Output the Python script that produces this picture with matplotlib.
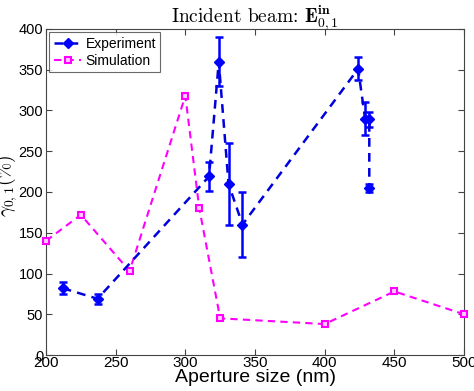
import numpy as np
import matplotlib.pyplot as plt

plt.rcParams['font.family'] = ['Liberation Sans', 'DejaVu Sans']
plt.rcParams['mathtext.fontset'] = 'cm'

# Experiment (aperture size, gamma, error bounds)
exp_x = [212, 237, 317, 324, 331, 341, 424, 429, 432, 432]
exp_y = [82, 69, 219, 360, 210, 160, 351, 290, 289, 205]
exp_lo = [75, 63, 201, 330, 160, 120, 337, 270, 280, 200]
exp_hi = [90, 75, 237, 390, 260, 200, 365, 310, 298, 210]

# Simulation
sim_x = [200, 225, 260, 300, 310, 325, 400, 450, 500]
sim_y = [140, 172, 103, 318, 180, 45, 38, 78, 50]

exp_y = np.array(exp_y)
yerr = [exp_y - np.array(exp_lo), np.array(exp_hi) - exp_y]

fig = plt.figure(figsize=(4.74, 3.91), dpi=100)
ax = fig.add_axes([0.097, 0.092, 0.882, 0.834])

ax.errorbar(exp_x, exp_y, yerr=yerr, fmt='none', ecolor='#0000ff', elinewidth=1.8,
            capsize=3, capthick=1.8, zorder=3)
ax.plot(exp_x, exp_y, '--', color='#0000dd', linewidth=1.8, dashes=(3.5, 2.5),
        marker='D', markersize=5, markerfacecolor='#0000ff', markeredgecolor='#0000ff',
        label='Experiment', zorder=4)
ax.plot(sim_x, sim_y, '--', color='#ff00ff', linewidth=1.5, dashes=(3.5, 2.5),
        marker='s', markersize=4.5, markerfacecolor='#ffccff', markeredgecolor='#ff00ff',
        markeredgewidth=1.5, label='Simulation', zorder=3, clip_on=False)

ax.set_xlim(200, 500)
ax.set_ylim(0, 400)
ax.set_xticks(np.arange(200, 501, 50))
ax.set_yticks(np.arange(0, 401, 50))
ax.tick_params(direction='in', top=True, right=True, labelsize=11, length=4,
               color='#444444')
ax.tick_params(axis='x', pad=1)
ax.tick_params(axis='y', pad=2, labelsize=10.5)
for s in ax.spines.values():
    s.set_color('#444444')

ax.set_xlabel('Aperture size (nm)', fontsize=14, labelpad=-1)
ax.set_ylabel(r'$\gamma_{0,1}(\%)$', fontsize=14)
ax.yaxis.set_label_coords(-0.064, 0.52)
ax.set_title(r'Incident beam: $\mathbf{E}^{\mathbf{in}}_{0,1}$', fontsize=14, pad=5,
             family='cmr10')

leg = ax.legend(loc='upper left', fontsize=10, handlelength=2.0, borderpad=0.3,
                labelspacing=0.25, handletextpad=0.3, borderaxespad=0.25,
                fancybox=False, edgecolor='#444444')
leg.get_frame().set_linewidth(0.8)

plt.savefig('out.png', dpi=100)
